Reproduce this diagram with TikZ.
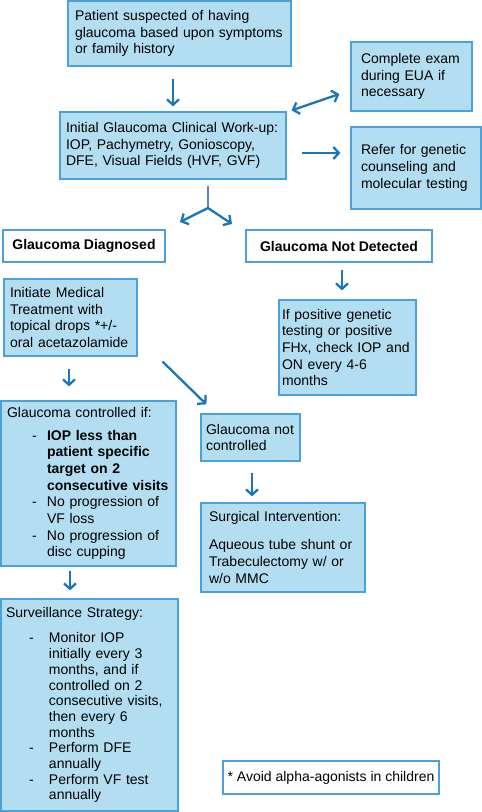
\documentclass[tikz,border=0pt]{standalone}
\usepackage{fontspec}
\setmainfont{Liberation Sans}
\usetikzlibrary{arrows.meta}
\definecolor{boxfill}{HTML}{B3DEF2}
\definecolor{boxline}{HTML}{4AA2D8}
\definecolor{arrblue}{HTML}{1B75BB}
\definecolor{stemblue}{HTML}{5A86C6}
\newcommand{\dashit}[2]{\makebox[#2][l]{\hspace*{#1}-}}
\newcommand{\indit}[1]{\hspace*{#1}}

\begin{document}
\begin{tikzpicture}[x=1pt,y=-1pt,
	box/.style={draw=boxline,line width=1.2pt,fill=boxfill,align=left,inner ysep=0pt,font=\fontsize{14}{16.7}\selectfont},
	wbox/.style={draw=boxline,line width=1.6pt,fill=white,inner sep=0pt,font=\fontsize{14}{16.7}\selectfont\bfseries},
	notebox/.style={draw=boxline,line width=1.4pt,fill=white,inner sep=0pt,font=\fontsize{14}{16.7}\selectfont},
	arr/.style={draw=arrblue,line width=2.3pt,-{Straight Barb[length=5.5pt,width=12pt]}},
	stem/.style={draw=stemblue,line width=1.6pt}]
	\useasboundingbox (0,0) rectangle (482,812);
	% top part
	\node[box,minimum height=65pt,text width=209pt,inner xsep=7pt] (patient) at (179.5,33.5)
		{Patient suspected of having\\glaucoma based upon symptoms\\or family history};
	\node[box,minimum height=67pt,text width=214pt,inner xsep=6pt] (workup) at (173,145.5)
		{Initial Glaucoma Clinical Work-up:\\IOP, Pachymetry, Gonioscopy,\\DFE, Visual Fields (HVF, GVF)};
	\node[box,minimum height=69pt,text width=101pt,inner xsep=10pt] (eua) at (411.5,76.5)
		{Complete exam\\during EUA if\\necessary};
	\node[box,minimum height=82pt,text width=110pt,inner xsep=10pt] (genetic) at (416,168)
		{Refer for genetic\\counseling and\\molecular testing};
	\node[wbox,minimum width=162pt,minimum height=32pt] (diag) at (84,246) {Glaucoma Diagnosed};
	\node[wbox,minimum width=186pt,minimum height=32pt] (notdet) at (339,246) {Glaucoma Not Detected};
	% left branch
	\node[box,minimum height=77pt,text width=121pt,inner xsep=6pt] (initiate) at (70.5,317.5)
		{Initiate Medical\\Treatment with\\topical drops *+/-\\oral acetazolamide};
	\node[box,minimum height=165pt,text width=163pt,inner xsep=6pt] (controlled) at (88.5,483.5)
		{Glaucoma controlled if:\\[6pt]
		\dashit{25pt}{40pt}\textbf{IOP less than}\\
		\indit{40pt}\textbf{patient specific}\\
		\indit{40pt}\textbf{target on 2}\\
		\indit{40pt}\textbf{consecutive visits}\\
		\dashit{25pt}{40pt}No progression of\\
		\indit{40pt}VF loss\\
		\dashit{25pt}{40pt}No progression of\\
		\indit{40pt}disc cupping};
	\node[box,minimum height=212pt,text width=167pt,inner xsep=5pt,font=\fontsize{14}{15.7}\selectfont] (surveil) at (89.5,705)
		{Surveillance Strategy:\\[10pt]
		\dashit{23pt}{43pt}Monitor IOP\\
		\indit{43pt}initially every 3\\
		\indit{43pt}months, and if\\
		\indit{43pt}controlled on 2\\
		\indit{43pt}consecutive visits,\\
		\indit{43pt}then every 6\\
		\indit{43pt}months\\
		\dashit{23pt}{43pt}Perform DFE\\
		\indit{43pt}annually\\
		\dashit{23pt}{43pt}Perform VF test\\
		\indit{43pt}annually};
	% right branch
	\node[box,minimum height=95pt,text width=131pt,inner xsep=3pt] (positive) at (347.5,347.5)
		{If positive genetic\\testing or positive\\FHx, check IOP and\\ON every 4-6\\months};
	\node[box,minimum height=47pt,text width=89pt,inner xsep=5pt] (notctrl) at (250.5,437.5)
		{Glaucoma not\\controlled};
	\node[box,minimum height=89pt,text width=148pt,inner xsep=8pt] (surgical) at (283,547.5)
		{Surgical Intervention:\\[11pt]Aqueous tube shunt or\\Trabeculectomy w/ or\\w/o MMC};
	\node[notebox,minimum width=216pt,minimum height=33pt] (note) at (331,777.5) {* Avoid alpha-agonists in children};
	% arrows
	\coordinate (fork) at (208,208);
	\coordinate (forkl) at (180,222);
	\coordinate (forkr) at (232,224);
	\draw[arr,shorten <=12pt,shorten >=5pt] (workup.north |- patient.south) -- (workup.north);
	\draw[arr,{Straight Barb[length=5.5pt,width=12pt]}-{Straight Barb[length=5.5pt,width=12pt]}]
		([xshift=5pt,yshift=1pt]workup.north east) -- ([xshift=-11pt,yshift=-17.5pt]eua.west);
	\draw[arr,shorten <=15pt,shorten >=10pt] ([yshift=-7.5pt]workup.east) -- ([yshift=-7.5pt]workup.east -| genetic.west);
	\draw[stem,shorten <=6pt] (fork |- workup.south) -- (fork);
	\draw[arr] (fork) -- (forkl);
	\draw[arr] (fork) -- (forkr);
	\draw[arr,shorten <=7pt,shorten >=9pt] ([xshift=3pt]notdet.south) -- ([xshift=3pt]notdet.south |- positive.north);
	\draw[arr,shorten <=12pt,shorten >=14pt] ([xshift=-1.5pt]initiate.south) -- ([xshift=-1.5pt]initiate.south |- controlled.north);
	\draw[arr] ([xshift=25pt,yshift=-5pt]initiate.south east) -- ([xshift=6pt,yshift=9pt]notctrl.north west);
	\draw[arr,shorten <=11pt,shorten >=6pt] ([xshift=1.5pt]notctrl.south) -- ([xshift=1.5pt]notctrl.south |- surgical.north);
	\draw[arr,shorten <=4pt,shorten >=8pt] ([xshift=-18.5pt]controlled.south) -- ([xshift=-18.5pt]controlled.south |- surveil.north);
\end{tikzpicture}
\end{document}
